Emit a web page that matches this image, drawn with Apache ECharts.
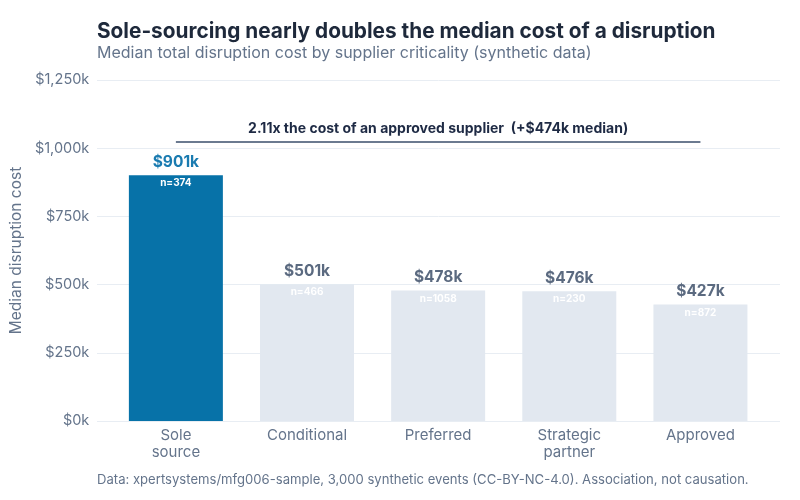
<!DOCTYPE html>
<html>
<head>
<meta charset="utf-8">
<script src="https://cdn.jsdelivr.net/npm/echarts@6/dist/echarts.min.js"></script>
<style>
  html, body { margin: 0; padding: 0; background: #fff; }
  #chart { width: 800px; height: 500px; }
</style>
</head>
<body>
<div id="chart"></div>
<script>
// supplier criticality categories
const categories = ['Sole\nsource', 'Conditional', 'Preferred', 'Strategic\npartner', 'Approved']
// median cost in $k
const medianCost = [901, 501, 478, 476, 427]
// events per category
const counts = [374, 466, 1058, 230, 872]
const yTicks = [0, 250, 500, 750, 1000, 1250]

const highlight = '#0772a8'
const muted = '#e2e8f0'
const slate = '#64748b'

const chart = echarts.init(document.getElementById('chart'))
chart.setOption({
  textStyle: { fontFamily: 'Inter' },
  title: [
    {
      text: 'Sole-sourcing nearly doubles the median cost of a disruption',
      left: 92, top: 16,
      textStyle: { fontSize: 20.8, fontWeight: 'bold', color: '#1e293b', fontFamily: 'Inter' }
    },
    {
      text: 'Median total disruption cost by supplier criticality (synthetic data)',
      left: 92, top: 40,
      textStyle: { fontSize: 16, fontWeight: 'normal', color: slate, fontFamily: 'Inter' }
    },
    {
      text: 'Data: xpertsystems/mfg006-sample, 3,000 synthetic events (CC-BY-NC-4.0). Association, not causation.',
      left: 92, top: 469,
      textStyle: { fontSize: 13.1, fontWeight: 'normal', color: slate, fontFamily: 'Inter' }
    }
  ],
  grid: [
    { left: 109, right: 34, top: 80, bottom: 79 },
    // wider grid only for the gridlines
    { left: 97, right: 20, top: 80, bottom: 79 }
  ],
  xAxis: [
    {
      type: 'category',
      gridIndex: 0,
      data: categories,
      axisLine: { show: false },
      axisTick: { show: false },
      axisLabel: { color: slate, fontSize: 15, lineHeight: 17, margin: 6, fontFamily: 'Inter' }
    },
    {
      type: 'value',
      gridIndex: 1,
      show: false
    }
  ],
  yAxis: [
    {
      type: 'value',
      gridIndex: 0,
      min: yTicks[0],
      max: yTicks[yTicks.length - 1],
      interval: 250,
      name: 'Median disruption cost',
      nameLocation: 'middle',
      nameGap: 83,
      nameTextStyle: { color: slate, fontSize: 15.5, fontFamily: 'Inter' },
      axisLabel: {
        color: slate, fontSize: 14.5, margin: 21, fontFamily: 'Inter',
        formatter: v => '$' + v.toLocaleString('en-US') + 'k'
      },
      splitLine: { show: false }
    },
    {
      type: 'value',
      gridIndex: 1,
      min: yTicks[0],
      max: yTicks[yTicks.length - 1],
      interval: 250,
      axisLabel: { show: false },
      axisLine: { show: false },
      axisTick: { show: false },
      splitLine: { lineStyle: { color: '#e8edf3' } },
      z: 0
    }
  ],
  series: [
    {
      type: 'bar',
      xAxisIndex: 0,
      yAxisIndex: 0,
      barWidth: 94,
      data: medianCost.map((v, i) => ({
        value: v,
        itemStyle: { color: i === 0 ? highlight : muted },
        label: { color: i === 0 ? '#1a7bb0' : '#5b6a80' }
      })),
      label: {
        show: true,
        position: 'top',
        distance: 5,
        fontSize: 15.5,
        fontWeight: 'bold',
        fontFamily: 'Inter',
        formatter: p => '$' + p.value + 'k'
      },
      markLine: {
        silent: true,
        symbol: 'none',
        lineStyle: { color: '#6b7a90', width: 2, type: 'solid' },
        label: {
          show: true,
          position: 'middle',
          formatter: '2.11x the cost of an approved supplier  (+$474k median)',
          color: '#1e2a44',
          fontSize: 14,
          fontWeight: 'bold',
          fontFamily: 'Inter',
          distance: 6
        },
        data: [[
          { coord: [0, 1022] },
          { coord: [4, 1022] }
        ]]
      },
      z: 2
    },
    {
      type: 'bar',
      xAxisIndex: 0,
      yAxisIndex: 0,
      barWidth: 94,
      barGap: '-100%',
      data: medianCost.slice(),
      itemStyle: { color: 'rgba(0,0,0,0)' },
      label: {
        show: true,
        position: 'insideTop',
        distance: 3,
        color: '#ffffff',
        fontSize: 10,
        fontWeight: 'bold',
        fontFamily: 'Inter',
        formatter: p => 'n=' + counts[p.dataIndex]
      },
      z: 3
    }
  ]
})
</script>
</body>
</html>
